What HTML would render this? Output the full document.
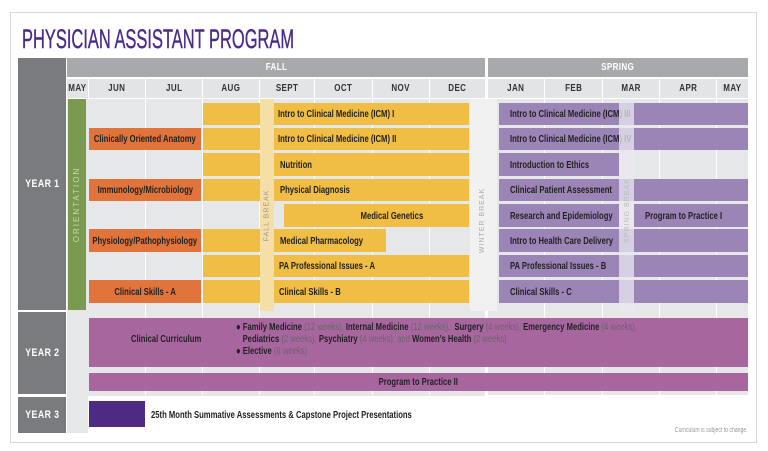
<!DOCTYPE html>
<html><head><meta charset="utf-8"><style>
*{margin:0;padding:0;box-sizing:border-box}
body{width:768px;height:451px;background:#fff;position:relative;overflow:hidden;font-family:"Liberation Sans",sans-serif;}
div{position:absolute}
.frame{left:10px;top:12px;width:747px;height:431px;border:1px solid #d6d6d6}
.t{font-weight:bold;font-size:10.5px;color:#222;white-space:nowrap;display:flex;align-items:center}
.t span,.s{display:inline-block;transform:scaleX(.73);transform-origin:left center}
.c{justify-content:center}
.c span{transform-origin:center center}
.g{background:#e6e7e8}
.y{background:#f0bd45}
.o{background:#e0743a}
.p{background:#9b84b6}
.m{background:#a8669f}
.yr{background:#7a7b7e;color:#fff;font-weight:bold;font-size:11px;display:flex;align-items:center;justify-content:center;letter-spacing:.5px}
.yr span,.mo span,.hd span{display:inline-block;transform:scaleX(.8)}
.hd{background:#a7a9ac;color:#fff;font-weight:bold;font-size:10px;display:flex;align-items:center;justify-content:center;letter-spacing:.5px}
.mo{background:#e3e4e5;color:#333;font-weight:bold;font-size:10px;display:flex;align-items:center;justify-content:center;letter-spacing:.5px}
.n{font-weight:normal;color:#666}
</style></head><body>
<div class="frame"></div>
<div style="left:22px;top:24px;font-size:27px;color:#4a2a8a;white-space:nowrap;transform:scaleX(.61);transform-origin:left;-webkit-text-stroke:.4px #4a2a8a">PHYSICIAN ASSISTANT PROGRAM</div>

<div class="yr" style="left:18px;top:58px;width:48px;height:252px"><span>YEAR 1</span></div>
<div class="yr" style="left:18px;top:312px;width:48px;height:82px"><span>YEAR 2</span></div>
<div class="yr" style="left:18px;top:397px;width:48px;height:36px"><span>YEAR 3</span></div>

<div class="hd" style="left:67px;top:58px;width:418px;height:19px"><span>FALL</span></div>
<div class="hd" style="left:488px;top:58px;width:260px;height:19px"><span>SPRING</span></div>

<div class="mo" style="left:67px;top:79px;width:21px;height:19px"><span>MAY</span></div>
<div class="mo" style="left:89px;top:79px;width:56px;height:19px"><span>JUN</span></div>
<div class="mo" style="left:146px;top:79px;width:56px;height:19px"><span>JUL</span></div>
<div class="mo" style="left:203px;top:79px;width:56px;height:19px"><span>AUG</span></div>
<div class="mo" style="left:260px;top:79px;width:54px;height:19px"><span>SEPT</span></div>
<div class="mo" style="left:315px;top:79px;width:57px;height:19px"><span>OCT</span></div>
<div class="mo" style="left:373px;top:79px;width:56px;height:19px"><span>NOV</span></div>
<div class="mo" style="left:430px;top:79px;width:55px;height:19px"><span>DEC</span></div>
<div class="mo" style="left:488px;top:79px;width:56px;height:19px"><span>JAN</span></div>
<div class="mo" style="left:545px;top:79px;width:57px;height:19px"><span>FEB</span></div>
<div class="mo" style="left:603px;top:79px;width:56px;height:19px"><span>MAR</span></div>
<div class="mo" style="left:660px;top:79px;width:56px;height:19px"><span>APR</span></div>
<div class="mo" style="left:717px;top:79px;width:31px;height:19px"><span>MAY</span></div>

<div class="g" style="left:67px;top:99px;width:418px;height:334px"></div>
<div class="g" style="left:488px;top:99px;width:260px;height:296px"></div>
<div style="left:145px;top:99px;width:1px;height:296px;background:#fff"></div>
<div style="left:202px;top:99px;width:1px;height:296px;background:#fff"></div>
<div style="left:259px;top:99px;width:1px;height:296px;background:#fff"></div>
<div style="left:314px;top:99px;width:1px;height:296px;background:#fff"></div>
<div style="left:372px;top:99px;width:1px;height:296px;background:#fff"></div>
<div style="left:429px;top:99px;width:1px;height:296px;background:#fff"></div>
<div style="left:544px;top:99px;width:1px;height:296px;background:#fff"></div>
<div style="left:602px;top:99px;width:1px;height:296px;background:#fff"></div>
<div style="left:659px;top:99px;width:1px;height:296px;background:#fff"></div>
<div style="left:716px;top:99px;width:1px;height:296px;background:#fff"></div>
<div style="left:88px;top:396px;width:660px;height:40px;background:#fff"></div>
<div style="left:470px;top:99px;width:27px;height:212px;background:#f1f1f2"></div>

<div style="left:68px;top:99px;width:18px;height:211px;background:#7a9a50"></div>
<div style="left:68px;top:99px;width:18px;height:211px;display:flex;align-items:center;justify-content:center"><span style="transform:rotate(-90deg);color:#c9d8b4;font-size:8px;letter-spacing:2px;white-space:nowrap">ORIENTATION</span></div>

<div class="y t" style="left:203px;top:103px;width:266px;height:22px;padding-left:75px"><span>Intro to Clinical Medicine (ICM) I</span></div>
<div class="o t c" style="left:89px;top:128px;width:112px;height:22px"><span>Clinically Oriented Anatomy</span></div>
<div class="y t" style="left:203px;top:128px;width:266px;height:22px;padding-left:75px"><span>Intro to Clinical Medicine (ICM) II</span></div>
<div class="y t" style="left:203px;top:153px;width:266px;height:23px;padding-left:77px"><span>Nutrition</span></div>
<div class="o t c" style="left:89px;top:179px;width:112px;height:22px"><span>Immunology/Microbiology</span></div>
<div class="y t" style="left:203px;top:179px;width:266px;height:22px;padding-left:77px"><span>Physical Diagnosis</span></div>
<div class="y t c" style="left:284px;top:204px;width:185px;height:23px;padding-left:30px"><span>Medical Genetics</span></div>
<div class="o t c" style="left:89px;top:229px;width:112px;height:23px"><span>Physiology/Pathophysiology</span></div>
<div class="y" style="left:203px;top:229px;width:57px;height:23px"></div>
<div class="y t" style="left:274px;top:229px;width:112px;height:23px;padding-left:6px"><span>Medical Pharmacology</span></div>
<div class="y t" style="left:203px;top:255px;width:266px;height:22px;padding-left:76px"><span>PA Professional Issues - A</span></div>
<div class="o t c" style="left:89px;top:280px;width:112px;height:23px"><span>Clinical Skills - A</span></div>
<div class="y t" style="left:203px;top:280px;width:266px;height:23px;padding-left:76px"><span>Clinical Skills - B</span></div>
<div style="left:260px;top:99px;width:14px;height:212px;background:#f6dfa6"></div>
<div style="left:258px;top:195px;width:18px;height:40px;display:flex;align-items:center;justify-content:center"><span style="transform:rotate(-90deg);color:#999;font-size:7px;letter-spacing:1px;white-space:nowrap">FALL BREAK</span></div>
<div style="left:474px;top:180px;width:18px;height:80px;display:flex;align-items:center;justify-content:center"><span style="transform:rotate(-90deg);color:#aaa;font-size:7px;letter-spacing:1px;white-space:nowrap">WINTER BREAK</span></div>

<div class="p t" style="left:499px;top:103px;width:249px;height:22px;padding-left:11px"><span>Intro to Clinical Medicine (ICM) III</span></div>
<div class="p t" style="left:499px;top:128px;width:249px;height:22px;padding-left:11px"><span>Intro to Clinical Medicine (ICM) IV</span></div>
<div class="p t" style="left:499px;top:153px;width:120px;height:23px;padding-left:11px"><span>Introduction to Ethics</span></div>
<div class="p t" style="left:499px;top:179px;width:249px;height:22px;padding-left:11px"><span>Clinical Patient Assessment</span></div>
<div class="p t" style="left:499px;top:204px;width:120px;height:23px;padding-left:11px"><span>Research and Epidemiology</span></div>
<div class="p t" style="left:634px;top:204px;width:114px;height:23px;padding-left:11px"><span>Program to Practice I</span></div>
<div class="p t" style="left:499px;top:229px;width:249px;height:23px;padding-left:11px"><span>Intro to Health Care Delivery</span></div>
<div class="p t" style="left:499px;top:255px;width:249px;height:22px;padding-left:11px"><span>PA Professional Issues - B</span></div>
<div class="p t" style="left:499px;top:280px;width:249px;height:23px;padding-left:11px"><span>Clinical Skills - C</span></div>
<div style="left:619px;top:99px;width:15px;height:212px;background:rgba(235,232,240,.75)"></div>
<div style="left:618px;top:170px;width:18px;height:80px;display:flex;align-items:center;justify-content:center"><span style="transform:rotate(-90deg);color:#bbb;font-size:7px;letter-spacing:1px;white-space:nowrap">SPRING BREAK</span></div>

<div class="m" style="left:89px;top:318px;width:659px;height:49px"></div>
<div class="t" style="left:131px;top:332px;height:14px"><span>Clinical Curriculum</span></div>
<div style="left:236px;top:321px;font-size:10.5px;line-height:12px;color:#222;white-space:nowrap;transform:scaleX(.73);transform-origin:left top">
<div style="position:relative">● <b>Family Medicine</b> <span class="n">(12 weeks),</span> <b>Internal Medicine</b> <span class="n">(12 weeks),</span> &nbsp;<b>Surgery</b> <span class="n">(4 weeks),</span> <b>Emergency Medicine</b> <span class="n">(4 weeks),</span></div>
<div style="position:relative;padding-left:9px"><b>Pediatrics</b> <span class="n">(2 weeks),</span> <b>Psychiatry</b> <span class="n">(4 weeks), and</span> <b>Women's Health</b> <span class="n">(2 weeks)</span></div>
<div style="position:relative">● <b>Elective</b> <span class="n">(8 weeks)</span></div>
</div>
<div class="m t c" style="left:89px;top:373px;width:659px;height:18px"><span>Program to Practice II</span></div>

<div style="left:89px;top:401px;width:56px;height:26px;background:#4e2a84"></div>
<div class="t" style="left:151px;top:408px;height:14px"><span>25th Month Summative Assessments &amp; Capstone Project Presentations</span></div>
<div style="left:600px;top:427px;width:148px;text-align:right;font-size:7px;color:#999;white-space:nowrap"><span class="s" style="transform-origin:right center">Curriculum is subject to change.</span></div>
</body></html>
